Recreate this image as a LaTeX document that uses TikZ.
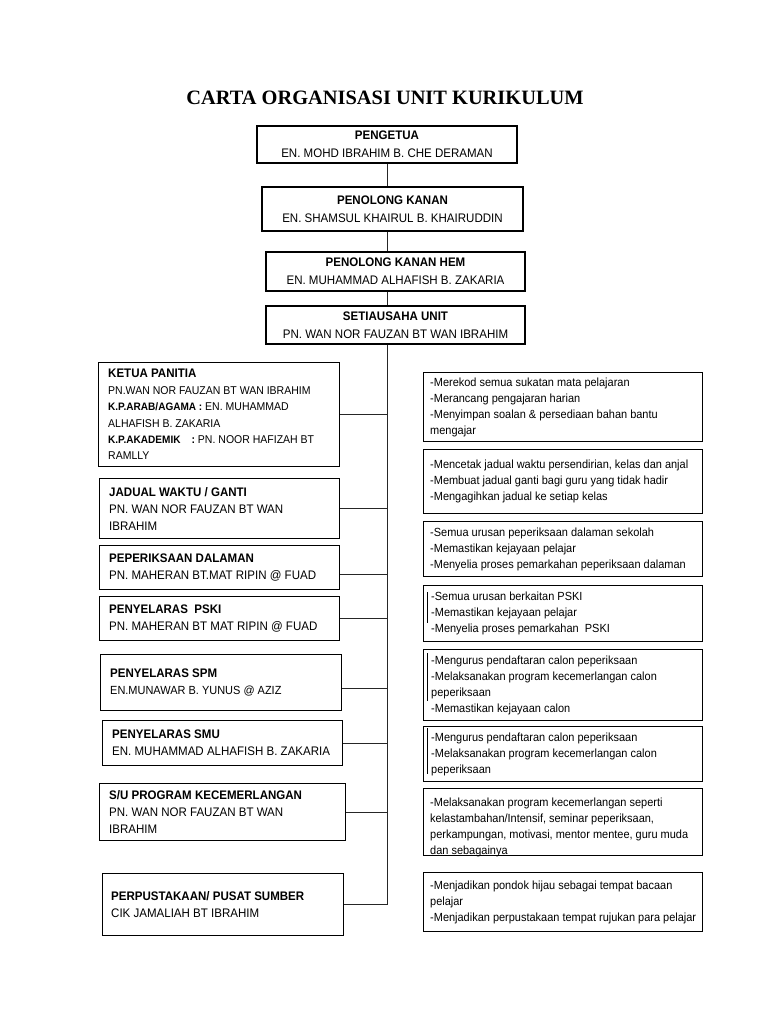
\documentclass[tikz,border=0pt]{standalone}
\usepackage{fontspec}
\setmainfont{Liberation Serif}
\newfontfamily\arial[FakeStretch=0.93]{Liberation Sans}
\begin{document}
\begin{tikzpicture}[x=1pt,y=-1pt,
  frame/.style={draw=black, line width=1.1pt, inner sep=0pt, anchor=north west},
  topbox/.style={draw=black, line width=1.1pt, inner sep=0pt, align=center, font=\arial\fontsize{12.4}{18}\selectfont},
  ltext/.style={anchor=west, inner sep=0pt, align=left, font=\arial\fontsize{12.4}{17.5}\selectfont},
  rtext/.style={anchor=west, inner sep=0pt, align=left, font=\arial\fontsize{11.8}{16}\selectfont},
  link/.style={draw=black!85, line width=0.9pt},
  bar/.style={draw=black, line width=0.9pt}]

\useasboundingbox[fill=white] (0,0) rectangle (768,1024);

% title
\node[font=\bfseries\fontsize{20.4}{24}\selectfont, inner sep=0pt] (title) at (385,98) {CARTA ORGANISASI UNIT KURIKULUM};

% top chain
\node[topbox, minimum width=260pt, minimum height=37pt] (peng) at (387,144.5) {\textbf{PENGETUA}\\EN. MOHD IBRAHIM B. CHE DERAMAN};
\node[topbox, minimum width=261pt, minimum height=44pt] (pk) at (392.5,209) {\textbf{PENOLONG KANAN}\\EN. SHAMSUL KHAIRUL B. KHAIRUDDIN};
\node[topbox, minimum width=259pt, minimum height=39pt] (pkh) at (395.5,271.5) {\textbf{PENOLONG KANAN HEM}\\EN. MUHAMMAD ALHAFISH B. ZAKARIA};
\node[topbox, minimum width=259pt, minimum height=38pt] (su) at (395.5,325) {\textbf{SETIAUSAHA UNIT}\\PN. WAN NOR FAUZAN BT WAN IBRAHIM};

% left boxes
\node[frame, minimum width=241pt, minimum height=104pt] (l1) at (98,362) {};
\node[ltext, font=\arial\fontsize{11.3}{16.4}\selectfont] (l1t) at ([xshift=10pt]l1.west)
  {{\fontsize{12.4}{16.4}\selectfont\bfseries KETUA PANITIA}\\
   PN.WAN NOR FAUZAN BT WAN IBRAHIM\\
   {\fontsize{10.8}{16.4}\selectfont\bfseries K.P.ARAB/AGAMA :} EN. MUHAMMAD\\
   ALHAFISH B. ZAKARIA\\
   {\fontsize{10.8}{16.4}\selectfont\bfseries K.P.AKADEMIK}\hspace{11pt}{\bfseries :} PN. NOOR HAFIZAH BT\\
   RAMLLY};

\node[frame, minimum width=240pt, minimum height=60pt] (l2) at (99,478) {};
\node[ltext, font=\arial\fontsize{12.4}{17}\selectfont] (l2t) at ([xshift=10pt]l2.west)
  {\textbf{JADUAL WAKTU / GANTI}\\PN. WAN NOR FAUZAN BT WAN\\IBRAHIM};

\node[frame, minimum width=240pt, minimum height=44pt] (l3) at (99,545) {};
\node[ltext] (l3t) at ([xshift=10pt]l3.west)
  {\textbf{PEPERIKSAAN DALAMAN}\\PN. MAHERAN BT.MAT RIPIN @ FUAD};

\node[frame, minimum width=240pt, minimum height=44pt] (l4) at (99,596) {};
\node[ltext] (l4t) at ([xshift=10pt]l4.west)
  {\textbf{PENYELARAS~~PSKI}\\PN. MAHERAN BT MAT RIPIN @ FUAD};

\node[frame, minimum width=241pt, minimum height=56pt] (l5) at (100,654) {};
\node[ltext] (l5t) at ([xshift=10pt]l5.west)
  {\textbf{PENYELARAS SPM}\\{\fontsize{11.8}{17.5}\selectfont EN.MUNAWAR B. YUNUS @ AZIZ}};

\node[frame, minimum width=240pt, minimum height=45pt] (l6) at (102,720) {};
\node[ltext, font=\arial\fontsize{12.4}{17}\selectfont] (l6t) at ([xshift=10pt]l6.west)
  {\textbf{PENYELARAS SMU}\\EN. MUHAMMAD ALHAFISH B. ZAKARIA};

\node[frame, minimum width=246pt, minimum height=57pt] (l7) at (99,783) {};
\node[ltext, font=\arial\fontsize{12.4}{17}\selectfont] (l7t) at ([xshift=10pt]l7.west)
  {\textbf{S/U PROGRAM KECEMERLANGAN}\\PN. WAN NOR FAUZAN BT WAN\\IBRAHIM};

\node[frame, minimum width=241pt, minimum height=62pt] (l8) at (102,873) {};
\node[ltext] (l8t) at ([xshift=9pt]l8.west)
  {\textbf{PERPUSTAKAAN/ PUSAT SUMBER}\\CIK JAMALIAH BT IBRAHIM};

% connectors
\coordinate (spinebot) at (peng.south |- l8.east);
\draw[link] (peng.south) -- (peng.south |- pk.north);
\draw[link] (peng.south |- pk.south) -- (peng.south |- pkh.north);
\draw[link] (peng.south |- pkh.south) -- (peng.south |- su.north);
\draw[link] (peng.south |- su.south) -- (spinebot);
\draw[link] (l1.east) -- (l1.east -| spinebot);
\draw[link] (l2.east) -- (l2.east -| spinebot);
\draw[link] ([yshift=-7pt]l3.east) -- ([yshift=-7pt]l3.east -| spinebot);
\draw[link] (l4.east) -- (l4.east -| spinebot);
\draw[link] ([yshift=-6pt]l5.east) -- ([yshift=-6pt]l5.east -| spinebot);
\draw[link] (l6.east) -- (l6.east -| spinebot);
\draw[link] (l7.east) -- (l7.east -| spinebot);
\draw[link] (l8.east) -- (spinebot);

% right boxes
\node[frame, minimum width=279pt, minimum height=69pt] (r1) at (423,372) {};
\node[rtext] (r1t) at ([xshift=7pt]r1.west)
  {-Merekod semua sukatan mata pelajaran\\-Merancang pengajaran harian\\-Menyimpan soalan \& persediaan bahan bantu\\mengajar};

\node[frame, minimum width=279pt, minimum height=64pt] (r2) at (423,449) {};
\node[rtext] (r2t) at ([xshift=7pt]r2.west)
  {-Mencetak jadual waktu persendirian, kelas dan anjal\\-Membuat jadual ganti bagi guru yang tidak hadir\\-Mengagihkan jadual ke setiap kelas};

\node[frame, minimum width=279pt, minimum height=55pt] (r3) at (423,521) {};
\node[rtext] (r3t) at ([xshift=7pt]r3.west)
  {-Semua urusan peperiksaan dalaman sekolah\\-Memastikan kejayaan pelajar\\-Menyelia proses pemarkahan peperiksaan dalaman};

\node[frame, minimum width=279pt, minimum height=56pt] (r4) at (423,585) {};
\node[rtext] (r4t) at ([xshift=8pt]r4.west)
  {-Semua urusan berkaitan PSKI\\-Memastikan kejayaan pelajar\\-Menyelia proses pemarkahan~~PSKI};
\draw[bar] ([xshift=4pt,yshift=-7pt]r4.north west) -- ([xshift=4pt,yshift=19pt]r4.south west);

\node[frame, minimum width=279pt, minimum height=71pt] (r5) at (423,649) {};
\node[rtext] (r5t) at ([xshift=8pt]r5.west)
  {-Mengurus pendaftaran calon peperiksaan\\-Melaksanakan program kecemerlangan calon\\peperiksaan\\-Memastikan kejayaan calon};
\draw[bar] ([xshift=4pt,yshift=-4pt]r5.north west) -- ([xshift=4pt,yshift=20pt]r5.south west);

\node[frame, minimum width=279pt, minimum height=55pt] (r6) at (423,726) {};
\node[rtext] (r6t) at ([xshift=8pt]r6.west)
  {-Mengurus pendaftaran calon peperiksaan\\-Melaksanakan program kecemerlangan calon\\peperiksaan};
\draw[bar] ([xshift=4pt,yshift=-2pt]r6.north west) -- ([xshift=4pt,yshift=8pt]r6.south west);

\node[frame, minimum width=279pt, minimum height=67pt] (r7) at (423,788) {};
\begin{scope}
  \clip (r7.north west) rectangle (r7.south east);
  \node[rtext] (r7t) at ([xshift=7pt,yshift=-5pt]r7.west)
    {-Melaksanakan program kecemerlangan seperti\\kelastambahan/Intensif, seminar peperiksaan,\\perkampungan, motivasi, mentor mentee, guru muda\\dan sebagainya};
\end{scope}

\node[frame, minimum width=279pt, minimum height=59pt] (r8) at (423,872) {};
\node[rtext] (r8t) at ([xshift=7pt]r8.west)
  {-Menjadikan pondok hijau sebagai tempat bacaan\\pelajar\\-Menjadikan perpustakaan tempat rujukan para pelajar};

\end{tikzpicture}
\end{document}
